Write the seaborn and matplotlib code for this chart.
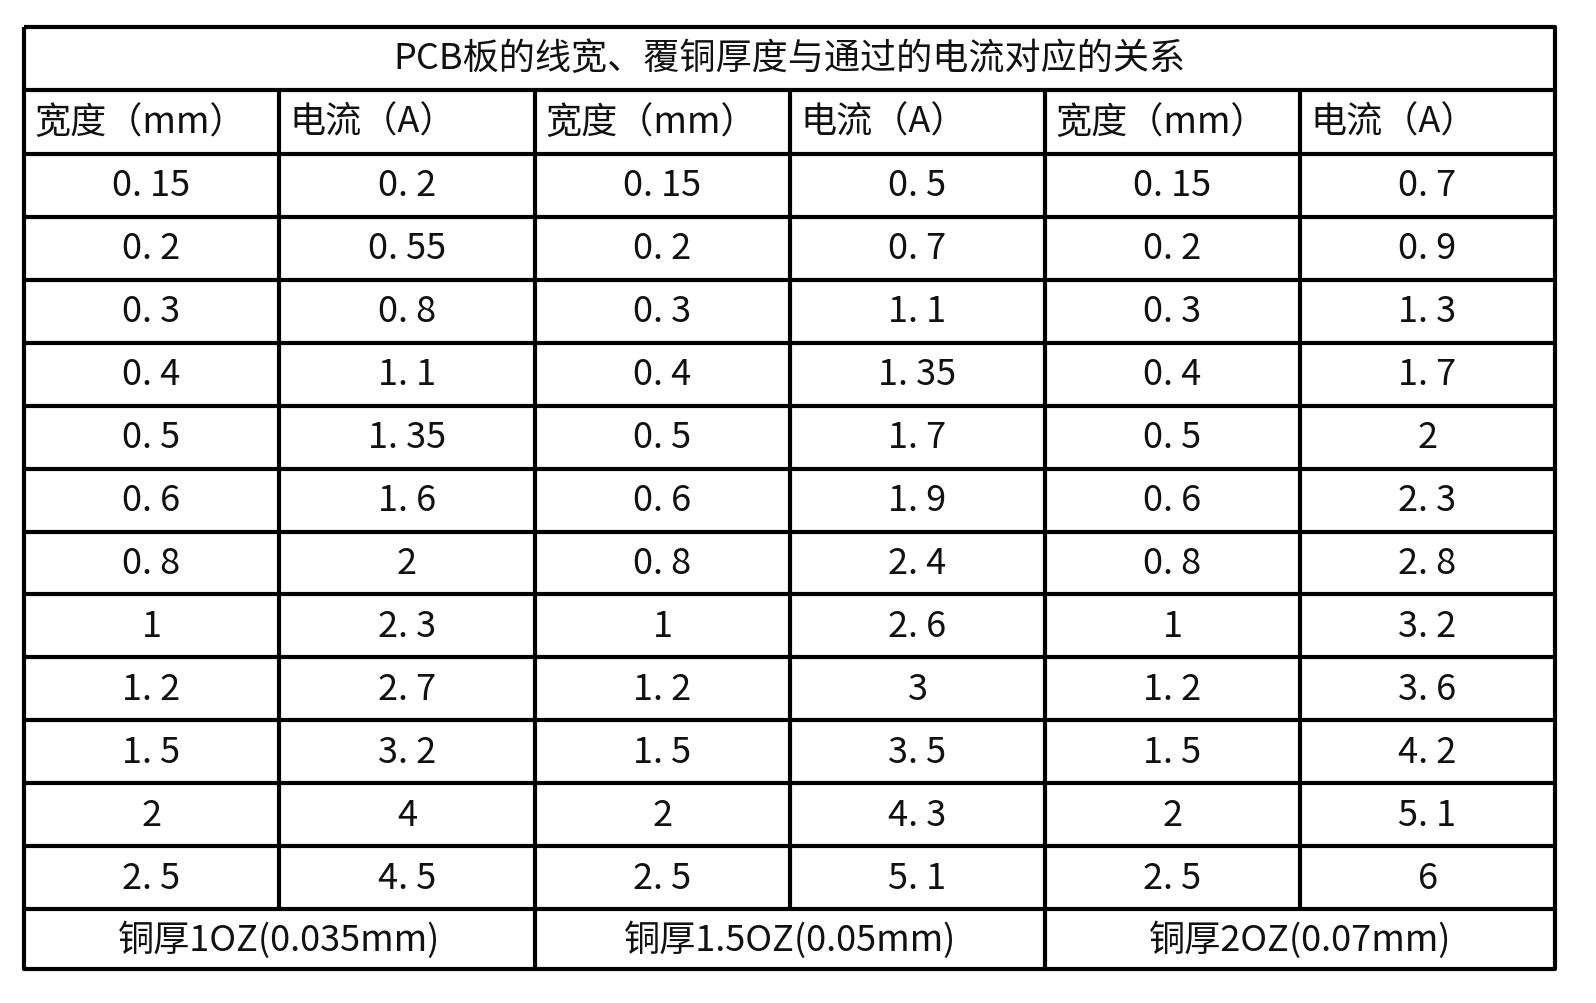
import matplotlib
matplotlib.use("Agg")
import matplotlib.pyplot as plt
import seaborn as sns

sns.set_theme(style="white")
plt.rcParams['font.family'] = ['Noto Sans CJK SC', 'DejaVu Sans']

title = "PCB板的线宽、覆铜厚度与通过的电流对应的关系"
headers = ["宽度（mm）", "电流（A）"] * 3
widths = ["0.15", "0.2", "0.3", "0.4", "0.5", "0.6", "0.8", "1", "1.2", "1.5", "2", "2.5"]
current_1oz = ["0.2", "0.55", "0.8", "1.1", "1.35", "1.6", "2", "2.3", "2.7", "3.2", "4", "4.5"]
current_15oz = ["0.5", "0.7", "1.1", "1.35", "1.7", "1.9", "2.4", "2.6", "3", "3.5", "4.3", "5.1"]
current_2oz = ["0.7", "0.9", "1.3", "1.7", "2", "2.3", "2.8", "3.2", "3.6", "4.2", "5.1", "6"]
footers = ["铜厚1OZ(0.035mm)", "铜厚1.5OZ(0.05mm)", "铜厚2OZ(0.07mm)"]

fig = plt.figure(figsize=(15.96, 10.04), dpi=100)
ax = fig.add_axes([0, 0, 1, 1])
ax.set_xlim(0, 1596)
ax.set_ylim(1004, 0)
ax.axis("off")

xs = [24, 279, 535, 790, 1045, 1300, 1555]
y_title = (28, 91)
y_head = (91, 155)
row_h = (910 - 155) / 12
y_foot = (910, 970)
lw = 3
kw = dict(color="black", lw=lw, solid_capstyle="butt")

ax.plot([xs[0], xs[-1], xs[-1], xs[0], xs[0]], [y_title[0], y_title[0], y_foot[1], y_foot[1], y_title[0]], **kw)
for y in [y_head[0], y_head[1]] + [155 + row_h * i for i in range(1, 12)] + [y_foot[0]]:
    ax.plot([xs[0], xs[-1]], [y, y], **kw)
for i, x in enumerate(xs[1:-1], start=1):
    y0 = y_head[0]
    y1 = y_foot[1] if i % 2 == 0 else y_foot[0]
    ax.plot([x, x], [y0, y1], **kw)

fs = 26
ax.text((xs[0] + xs[-1]) / 2, sum(y_title) / 2, title, ha="center", va="center", fontsize=fs, color="#111")
for i, h in enumerate(headers):
    ax.text(xs[i] + 10, sum(y_head) / 2, h, ha="left", va="center", fontsize=fs, color="#111")

cols = [widths, current_1oz, widths, current_15oz, widths, current_2oz]
for c, col in enumerate(cols):
    cx = (xs[c] + xs[c + 1]) / 2
    for r, v in enumerate(col):
        cy = 155 + row_h * (r + 0.5)
        ax.text(cx, cy, v.replace(".", ". "), ha="center", va="center", fontsize=fs, color="#111")

for k, f in enumerate(footers):
    cx = (xs[2 * k] + xs[2 * k + 2]) / 2
    ax.text(cx, sum(y_foot) / 2, f, ha="center", va="center", fontsize=fs, color="#111")

fig.savefig("out.png", dpi=100, facecolor="white")
